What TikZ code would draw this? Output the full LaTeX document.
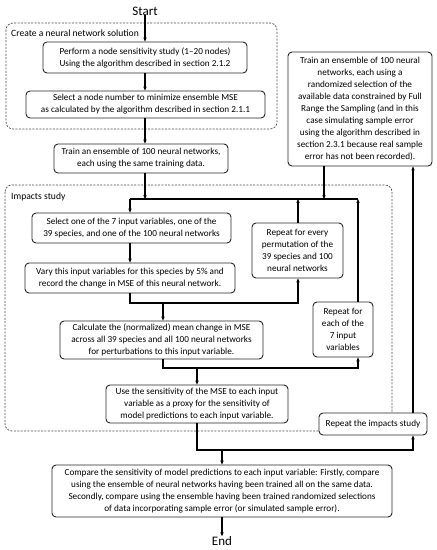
\documentclass[tikz,border=0pt]{standalone}
\usepackage{fontspec}
\setmainfont{Carlito}
\usetikzlibrary{arrows.meta,calc}
\begin{document}
\begin{tikzpicture}[x=1pt,y=-1pt,
  box/.style={draw=black!85,line width=0.9pt,rounded corners=4pt,fill=white,align=center,inner sep=1pt,
    font=\fontsize{9.2}{11.9}\selectfont},
  grp/.style={draw=black!70,line width=0.7pt,dash pattern=on 2pt off 1.4pt,rounded corners=7pt},
  arr/.style={line width=1.1pt,-{Stealth[length=4pt,width=3.4pt]}},
  ln/.style={line width=1.1pt},
  ttl/.style={font=\fontsize{13}{15}\selectfont,inner sep=0pt},
  lbl/.style={font=\fontsize{9.6}{11}\selectfont,inner sep=0pt,anchor=west}]
\useasboundingbox (0,0) rectangle (437,550);
% groups
\draw[grp] (6,23) rectangle (277,129);
\node[lbl] (g1) at (11,33) {Create a neural network solution};
\draw[grp] (5,185) rectangle (392,431);
\node[lbl] (g2) at (11,197) {Impacts study};
% nodes
\node[ttl] (start) at (145,11) {Start};
\node[box,minimum width=204pt,minimum height=31pt] (nss) at (145,57.5) {Perform a node sensitivity study (1--20 nodes)\\Using the algorithm described in section 2.1.2};
\node[box,minimum width=239pt,minimum height=27pt] (sel) at (145.5,104.5) {Select a node number to minimize ensemble MSE\\as calculated by the algorithm described in section 2.1.1};
\node[box,minimum width=174pt,minimum height=29pt] (train) at (141,158.5) {Train an ensemble of 100 neural networks,\\each using the same training data.};
\node[box,minimum width=144pt,minimum height=114pt] (trand) at (360,109) {Train an ensemble of 100 neural\\networks, each using a\\randomized selection of the\\available data constrained by Full\\Range the Sampling (and in this\\case simulating sample error\\using the algorithm described in\\section 2.3.1 because real sample\\error has not been recorded).};
\node[box,minimum width=199pt,minimum height=30pt] (pick) at (131.5,228) {Select one of the 7 input variables, one of the\\39 species, and one of the 100 neural networks};
\node[box,minimum width=210pt,minimum height=30pt] (vary) at (130,278) {Vary this input variables for this species by 5\% and\\record the change in MSE of this neural network.};
\node[box,minimum width=91pt,minimum height=55pt] (perm) at (297.5,250.5) {Repeat for every\\permutation of the\\39 species and 100\\neural networks};
\node[box,minimum width=203pt,minimum height=38pt] (calc) at (161.5,340) {Calculate the (normalized) mean change in MSE\\across all 39 species and all 100 neural networks\\for perturbations to this input variable.};
\node[box,minimum width=60pt,minimum height=55pt] (rep7) at (343,329.5) {Repeat for\\each of the\\7 input\\variables};
\node[box,minimum width=182pt,minimum height=38pt] (use) at (197,404) {Use the sensitivity of the MSE to each input\\variable as a proxy for the sensitivity of\\model predictions to each input variable.};
\node[box,minimum width=108pt,minimum height=22pt] (repimp) at (373,424) {Repeat the impacts study};
\node[box,minimum width=340pt,minimum height=52pt] (comp) at (222,491) {Compare the sensitivity of model predictions to each input variable: Firstly, compare\\using the ensemble of neural networks having been trained all on the same data.\\Secondly, compare using the ensemble having been trained randomized selections\\of data incorporating sample error (or simulated sample error).};
\node[ttl] (end) at (222,541) {End};
% junction coordinates
\coordinate (jA) at (145,199);
\coordinate (jL) at (130,199);
\coordinate (jR) at (358,199);
\coordinate (jT) at (324,199);
\coordinate (jP) at (298,199);
\coordinate (v1) at (130,303);
\coordinate (v2) at (298,303);
\coordinate (v3) at (163,303);
\coordinate (c1) at (163,368);
\coordinate (c2) at (358,368);
\coordinate (c3) at (197,368);
\coordinate (u1) at (197,450);
\coordinate (u2) at (413,450);
\coordinate (u3) at (222,450);
% connectors
\draw[arr] (start.south) -- (nss.north);
\draw[arr] (nss.south) -- (sel.north -| nss.south);
\draw[arr] (sel.south -| nss.south) -- (train.north -| nss.south);
\draw[arr] (train.south -| jA) -- (jA);
\draw[ln] (jL) -- (jR);
\draw[arr] (jL) -- (pick.north -| jL);
\draw[arr] (trand.south -| jT) -- (jT);
\draw[arr] (perm.north -| jP) -- (jP);
\draw[arr] (rep7.north -| jR) -- (jR);
\draw[arr] (pick.south -| jL) -- (vary.north -| jL);
\draw[arr] (vary.south -| v1) -- (v1) -- (v2) -- (perm.south -| v2);
\draw[arr] (v3) -- (calc.north -| v3);
\draw[arr] (calc.south -| c1) -- (c1) -- (c2) -- (rep7.south -| c2);
\draw[arr] (c3) -- (use.north -| c3);
\draw[arr] (use.south -| u1) -- (u1) -- (u2) -- (repimp.south -| u2);
\draw[arr] (u3) -- (comp.north -| u3);
\draw[arr] (repimp.north -| u2) -- (trand.south -| u2);
\draw[arr] (comp.south) -- (end.north);
\end{tikzpicture}
\end{document}
